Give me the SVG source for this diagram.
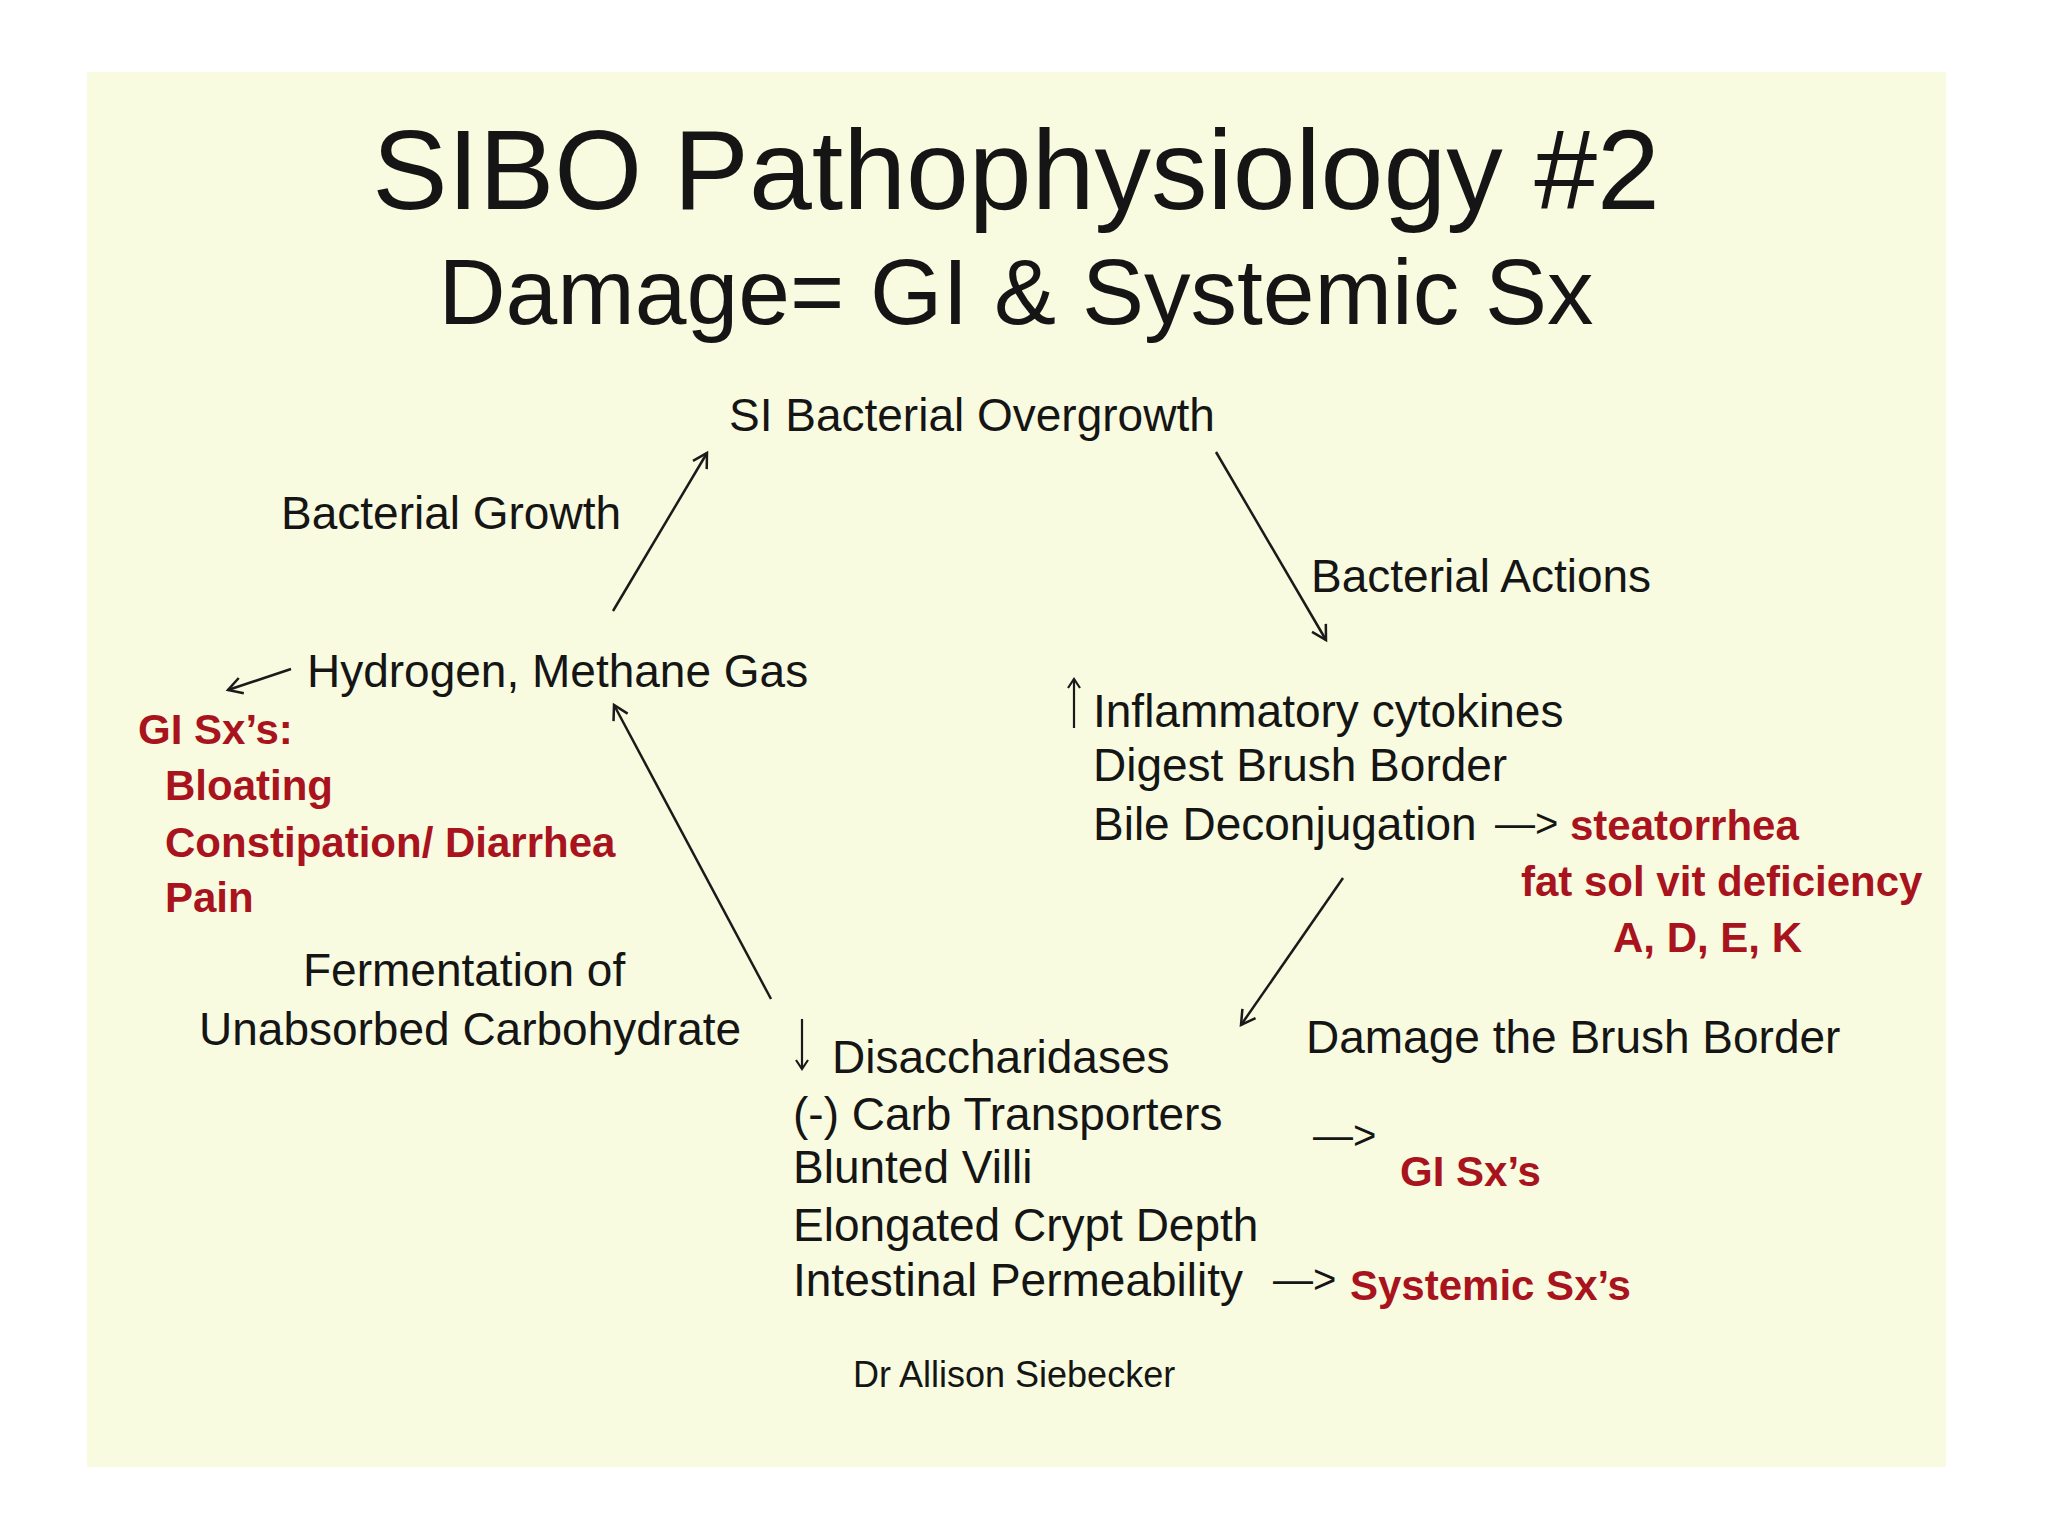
<svg xmlns="http://www.w3.org/2000/svg" width="2048" height="1536" viewBox="0 0 2048 1536">
<defs>
<style>
.t{font-family:"Liberation Sans",Arial,sans-serif;fill:#151515}
.b{font-size:46px}
.a{font-size:40px}
.r{font-family:"Liberation Sans",Arial,sans-serif;font-weight:bold;font-size:42px;fill:#a8131d}
.c{stroke:#1a1a1a;stroke-width:2.5;fill:none;marker-end:url(#ah)}
.s{stroke:#1a1a1a;stroke-width:2.2;fill:none;marker-end:url(#ahs)}
</style>
<marker id="ah" markerUnits="userSpaceOnUse" markerWidth="24" markerHeight="24" viewBox="0 0 24 24" refX="20" refY="12" orient="auto">
<path d="M6,4 L20,12 L6,20" fill="none" stroke="#1a1a1a" stroke-width="2.5"/>
</marker>
<marker id="ahs" markerUnits="userSpaceOnUse" markerWidth="20" markerHeight="20" viewBox="0 0 20 20" refX="17" refY="10" orient="auto">
<path d="M8,4 L17,10 L8,16" fill="none" stroke="#1a1a1a" stroke-width="2.2"/>
</marker>
</defs>
<rect x="0" y="0" width="2048" height="1536" fill="#ffffff"/>
<rect x="87" y="72" width="1859" height="1395" fill="#f8fbdf"/>
<g id="title">
<text class="t" x="1016" y="209" font-size="113" text-anchor="middle">SIBO Pathophysiology #2</text>
<text class="t" x="1016" y="324" font-size="93" text-anchor="middle">Damage= GI &amp; Systemic Sx</text>
</g>
<g id="connectors">
<line class="c" x1="613" y1="611" x2="707" y2="453"/>
<line class="c" x1="1216" y1="452" x2="1326" y2="640"/>
<line class="c" x1="1343" y1="878" x2="1241" y2="1025"/>
<line class="c" x1="771" y1="999" x2="614" y2="705"/>
<line class="c" x1="291" y1="669" x2="228" y2="690"/>
</g>
<g id="node-overgrowth">
<text class="t b" x="729" y="431">SI Bacterial Overgrowth</text>
</g>
<g id="label-growth">
<text class="t b" x="281" y="529">Bacterial Growth</text>
</g>
<g id="label-actions">
<text class="t b" x="1311" y="592">Bacterial Actions</text>
</g>
<g id="node-gas">
<text class="t b" x="307" y="687">Hydrogen, Methane Gas</text>
</g>
<g id="node-gi-left">
<text class="r" x="138" y="744">GI Sx’s:</text>
<text class="r" x="165" y="800">Bloating</text>
<text class="r" x="165" y="857">Constipation/ Diarrhea</text>
<text class="r" x="165" y="912">Pain</text>
</g>
<g id="node-actions">
<line class="s" x1="1074" y1="728" x2="1074" y2="679"/>
<text class="t b" x="1093" y="727">Inflammatory cytokines</text>
<text class="t b" x="1093" y="781">Digest Brush Border</text>
<text class="t b" x="1093" y="840">Bile Deconjugation</text>
<text class="t a" x="1495" y="837">—&gt;</text>
</g>
<g id="node-steatorrhea">
<text class="r" x="1570" y="840">steatorrhea</text>
<text class="r" x="1521" y="896">fat sol vit deficiency</text>
<text class="r" x="1613" y="952">A, D, E, K</text>
</g>
<g id="label-damage">
<text class="t b" x="1306" y="1053">Damage the Brush Border</text>
</g>
<g id="label-fermentation">
<text class="t b" x="303" y="986">Fermentation of</text>
<text class="t b" x="199" y="1045">Unabsorbed Carbohydrate</text>
</g>
<g id="node-damage">
<line class="s" x1="802" y1="1019" x2="802" y2="1069"/>
<text class="t b" x="832" y="1073">Disaccharidases</text>
<text class="t b" x="793" y="1130">(-) Carb Transporters</text>
<text class="t b" x="793" y="1183">Blunted Villi</text>
<text class="t b" x="793" y="1241">Elongated Crypt Depth</text>
<text class="t b" x="793" y="1296">Intestinal Permeability</text>
<text class="t a" x="1313" y="1149">—&gt;</text>
<text class="t a" x="1273" y="1293">—&gt;</text>
</g>
<g id="node-gi-right">
<text class="r" x="1400" y="1186">GI Sx’s</text>
</g>
<g id="node-systemic">
<text class="r" x="1350" y="1300">Systemic Sx’s</text>
</g>
<g id="credit">
<text class="t" x="853" y="1387" font-size="36">Dr Allison Siebecker</text>
</g>
</svg>
